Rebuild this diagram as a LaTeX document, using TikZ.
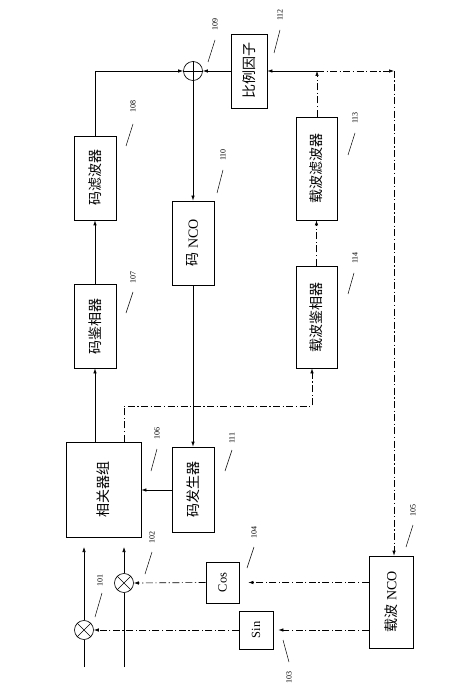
\documentclass[tikz,border=0pt]{standalone}
\usepackage{fontspec}
\setmainfont{Liberation Serif}
\newfontfamily\cjk{Noto Sans CJK SC}
\newfontfamily\latn{Liberation Serif}
\usetikzlibrary{arrows.meta}
\begin{document}
\begin{tikzpicture}[x=1pt,y=-1pt,line width=0.65pt,
  >={Latex[length=5pt,width=3.5pt]},
  blk/.style={draw,inner sep=0pt,font=\fontsize{14}{14}\selectfont\cjk},
  lat/.style={draw,inner sep=0pt,font=\fontsize{12.5}{12.5}\selectfont},
  rnd/.style={draw,circle,inner sep=0pt,minimum size=19pt},
  dd/.style={dash pattern=on 7pt off 2.5pt on 1.2pt off 2.5pt},
  lab/.style={font=\fontsize{8}{8}\selectfont,rotate=90,inner sep=0pt},
  lead/.style={line width=0.5pt}]
\useasboundingbox (0,0) rectangle (474,684);
% blocks
\node[blk,minimum width=42pt,minimum height=84pt] (cf) at (95,178) {\rotatebox{90}{码滤波器}};
\node[blk,minimum width=42pt,minimum height=84pt] (cd) at (95,326) {\rotatebox{90}{码鉴相器}};
\node[blk,minimum width=42pt,minimum height=84pt] (nco) at (193,243) {\rotatebox{90}{码\hspace{4pt}{\latn NCO}}};
\node[blk,minimum width=42pt,minimum height=85pt] (cg) at (193,489.5) {\rotatebox{90}{码发生器}};
\node[blk,minimum width=75pt,minimum height=95pt] (corr) at (103.5,489.5) {\rotatebox{90}{相关器组}};
\node[blk,minimum width=36pt,minimum height=74pt] (scale) at (249,71) {\rotatebox{90}{比例因子}};
\node[blk,minimum width=41pt,minimum height=103pt] (lf) at (316.5,168.5) {\rotatebox{90}{载波滤波器}};
\node[blk,minimum width=41pt,minimum height=102pt] (pd) at (316.5,317) {\rotatebox{90}{载波鉴相器}};
\node[blk,minimum width=44pt,minimum height=92pt] (cnco) at (391,602) {\rotatebox{90}{载波\hspace{4pt}{\latn NCO}}};
\node[lat,minimum width=33pt,minimum height=41pt] (cos) at (222.5,582.5) {\rotatebox{90}{Cos}};
\node[lat,minimum width=34pt,minimum height=38pt] (sin) at (256,630) {\rotatebox{90}{Sin}};
% circles
\node[rnd] (sum) at (193,71) {};
\draw (sum.north) -- (sum.south) (sum.west) -- (sum.east);
\node[rnd] (m102) at (124,583) {};
\draw (m102.north west) -- (m102.south east) (m102.north east) -- (m102.south west);
\node[rnd] (m101) at (84,630) {};
\draw (m101.north west) -- (m101.south east) (m101.north east) -- (m101.south west);
% coordinates
\coordinate (in1) at (84,667);
\coordinate (out1) at (84,547);
\coordinate (in2) at (124,667);
\coordinate (out2) at (124,547);
\coordinate (cfbend) at (95,71);
\coordinate (jn) at (317,71);
\coordinate (cnr) at (394,71);
\coordinate (c1) at (124,406);
\coordinate (c2) at (312,406);
% code loop (solid)
\draw[->] (cf.north) -- (cfbend) -- (sum.west);
\draw[->] (scale.west) -- (sum.east);
\draw[->] (sum.south) -- (nco.north);
\draw[->] (nco.south) -- (cg.north);
\draw[->] (cg.west |- 0,490) -- (corr.east |- 0,490);
\draw[->] (corr.north -| 95,0) -- (cd.south);
\draw[->] (cd.north) -- (cf.south);
\draw[->] (jn) -- (scale.east);
% carrier loop (dash-dot)
\draw[dd,->] (corr.north -| c1) -- (c1) -- (c2) -- (pd.south -| c2);
\draw[dd,->] (pd.north) -- (lf.south);
\draw[dd,->] (lf.north -| jn) -- (jn);
\draw[dd,->] (jn) -- (cnr);
\draw[dd,->] (cnr) -- (cnco.north -| cnr);
\draw[dd,->,shorten >=9pt] (cnco.west |- cos.east) -- (cos.east);
\draw[dd,->] (cos.west) -- (m102.east);
\draw[dd,->,shorten >=5pt] (cnco.west |- sin.east) -- (sin.east);
\draw[dd,->] (sin.west) -- (m101.east);
% inputs / outputs
\draw (in1) -- (m101.south);
\draw[->] (m101.north) -- (out1);
\draw (in2) -- (m102.south);
\draw[->] (m102.north) -- (out2);
% labels
\node[lab] (l109) at (215,25) {109};  \draw[lead] (215,40) -- (208,62);
\node[lab] (l112) at (280,15) {112};  \draw[lead] (280,30) -- (274,53);
\node[lab] (l108) at (133,107) {108}; \draw[lead] (133,124) -- (126,146);
\node[lab] (l110) at (223,155) {110}; \draw[lead] (223,170) -- (217,193);
\node[lab] (l113) at (355,118) {113}; \draw[lead] (355,133) -- (348,155);
\node[lab] (l107) at (133,277) {107}; \draw[lead] (133,292) -- (126,313);
\node[lab] (l114) at (355,258) {114}; \draw[lead] (354,273) -- (348,294);
\node[lab] (l106) at (157,433) {106}; \draw[lead] (157,449) -- (151,471);
\node[lab] (l111) at (232,438) {111}; \draw[lead] (232,450) -- (225,471);
\node[lab] (l104) at (254,532) {104}; \draw[lead] (254,547) -- (247,568);
\node[lab] (l105) at (413,510) {105}; \draw[lead] (413,525) -- (406,547);
\node[lab] (l102) at (152,537) {102}; \draw[lead] (152,552) -- (145,574);
\node[lab] (l101) at (100,580) {101}; \draw[lead] (102,593) -- (95,617);
\node[lab] (l103) at (289,677) {103}; \draw[lead] (289,662) -- (283,640);
\end{tikzpicture}
\end{document}
